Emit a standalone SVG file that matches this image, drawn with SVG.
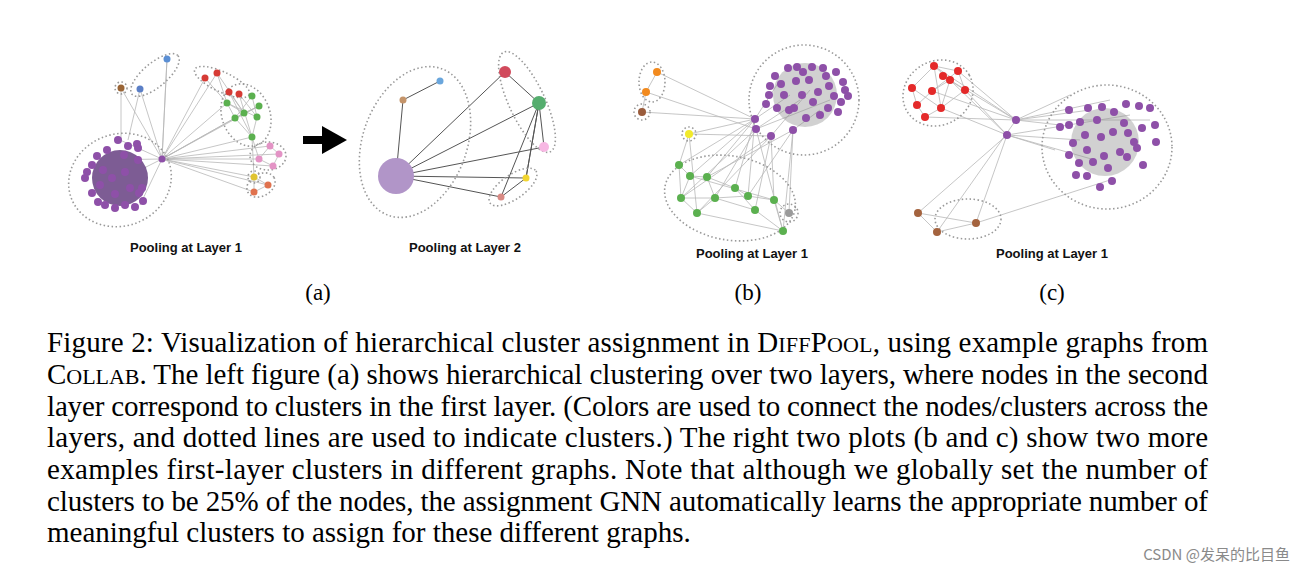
<svg xmlns="http://www.w3.org/2000/svg" width="1300" height="572" viewBox="0 0 1300 572">
<style>
.e{stroke:#b8b8b8;stroke-width:0.8;fill:none}
.e2{stroke:#555;stroke-width:1;fill:none}
.c{fill:none;stroke:#999;stroke-width:1.6;stroke-dasharray:1.5 2.5}
.lb{font-family:"Liberation Sans",Arial,sans-serif;font-weight:bold;font-size:13px;text-anchor:middle;fill:#111}
.sub{font-family:"Liberation Serif",serif;font-size:23px;text-anchor:middle;fill:#000}
.cap{font-family:"Liberation Serif",serif;font-size:29px;fill:#000}
.p{fill:#8e50a8}.g{fill:#5bb04f}.r{fill:#d63b35}
</style>
<rect width="1300" height="572" fill="#fff"/>
<g id="a1">
<g class="e">
<path d="M162,159 L205,78 M162,159 L217,73 M162,159 L227,103 M162,159 L244,113 M162,159 L235,118 M162,159 L252,137 M162,159 L259,106 M162,159 L270,146 M162,159 L259,159 M162,159 L279,154 M162,159 L273,166 M162,159 L254,177 M162,159 L268,185 M162,159 L254,192 M162,159 L140,89 M162,159 L121,88 M162,159 L167,59 M121,88 L121,140 M140,89 L128,140 M167,59 L162,159"/>
<path d="M205,78 L227,103 L217,73 L244,113 L229,92 L252,137 L239,94 L257,117 L227,103 L244,113 L259,106 L235,118 L252,96 L257,117 L252,137 L235,118 L227,103 M252,137 L259,159 L270,146 L279,154 L273,166 L259,159 M252,137 L254,177 L254,192 L268,185 L254,177 M162,159 L100,160 M162,159 L100,190 M162,159 L140,205 M162,159 L120,140"/>
</g>
<ellipse class="c" cx="120" cy="180" rx="52" ry="46" transform="rotate(-20 120 180)"/>
<ellipse class="c" cx="155" cy="75" rx="30" ry="12" transform="rotate(-40 155 75)"/>
<circle class="c" cx="121" cy="88" r="6"/>
<ellipse class="c" cx="222" cy="82" rx="30" ry="10" transform="rotate(25 222 82)"/>
<ellipse class="c" cx="246" cy="115" rx="24" ry="32" transform="rotate(-20 246 115)"/>
<ellipse class="c" cx="268" cy="156" rx="18" ry="14"/>
<ellipse class="c" cx="261" cy="185" rx="15" ry="11" transform="rotate(-30 261 185)"/>
<circle class="c" cx="254" cy="177" r="6"/>
<g class="p">
<circle cx="120" cy="178" r="28" fill="#7d5c94"/>
<circle cx="118" cy="140" r="4"/><circle cx="128" cy="146" r="4"/><circle cx="138" cy="148" r="4"/><circle cx="137" cy="144" r="4"/><circle cx="107" cy="150" r="4"/><circle cx="97" cy="156" r="4"/><circle cx="92" cy="165" r="4"/><circle cx="87" cy="172" r="4"/><circle cx="85" cy="178" r="4"/><circle cx="92" cy="193" r="4"/><circle cx="98" cy="202" r="4"/><circle cx="105" cy="205" r="4"/><circle cx="115" cy="208" r="4"/><circle cx="125" cy="205" r="4"/><circle cx="135" cy="207" r="4"/><circle cx="143" cy="201" r="4"/><circle cx="139" cy="193" r="4"/><circle cx="142" cy="188" r="4"/><circle cx="138" cy="160" r="4"/><circle cx="124" cy="155" r="4"/><circle cx="103" cy="170" r="4"/><circle cx="100" cy="185" r="4"/><circle cx="112" cy="178" r="4"/><circle cx="125" cy="172" r="4"/><circle cx="130" cy="188" r="4"/><circle cx="115" cy="194" r="4"/><circle cx="162" cy="159" r="3.5"/>
</g>
<circle cx="167" cy="59" r="3.5" fill="#5b8fd4"/><circle cx="140" cy="89" r="3.5" fill="#5b7fc6"/><circle cx="121" cy="88" r="3.5" fill="#9a6536"/>
<g class="r"><circle cx="205" cy="78" r="3.5"/><circle cx="217" cy="73" r="3.5"/><circle cx="229" cy="92" r="3.5"/><circle cx="239" cy="94" r="3.5"/></g>
<g class="g"><circle cx="227" cy="103" r="3.5"/><circle cx="252" cy="96" r="3.5"/><circle cx="259" cy="106" r="3.5"/><circle cx="244" cy="113" r="3.5"/><circle cx="235" cy="118" r="3.5"/><circle cx="257" cy="117" r="3.5"/><circle cx="252" cy="137" r="3.5"/></g>
<g fill="#e393c5"><circle cx="270" cy="146" r="3.5"/><circle cx="279" cy="154" r="3.5"/><circle cx="259" cy="159" r="3.5"/><circle cx="273" cy="166" r="3.5"/></g>
<circle cx="254" cy="177" r="3.5" fill="#e0c431"/><circle cx="268" cy="185" r="3.5" fill="#e0724e"/><circle cx="254" cy="192" r="3.5" fill="#e0724e"/>
<text class="lb" x="186" y="252">Pooling at Layer 1</text>
</g>
<g id="arrow"><rect x="303" y="136" width="20" height="8" fill="#000"/><polygon points="322,126 347,140 322,154" fill="#000"/></g>
<g id="a2">
<g class="e2">
<path d="M396,176 L403,100 L440,81 M396,176 L505,72 L539,103 M396,176 L539,103 M396,176 L544,147 M396,176 L526,178 M396,176 L501,197 L526,178 L539,103 L501,197 M539,103 L544,147 M539,103 L526,178"/>
</g>
<ellipse class="c" cx="415" cy="142" rx="52" ry="78" transform="rotate(20 415 142)"/>
<ellipse class="c" cx="527" cy="102" rx="18" ry="55" transform="rotate(-25 527 102)"/>
<ellipse class="c" cx="513" cy="187" rx="28" ry="12" transform="rotate(-35 513 187)"/>
<circle cx="396" cy="176" r="18" fill="#b195c8"/>
<circle cx="403" cy="100" r="3.5" fill="#c4946a"/><circle cx="440" cy="81" r="3.5" fill="#6aa6dc"/>
<circle cx="505" cy="72" r="6" fill="#d14a5c"/><circle cx="539" cy="103" r="7" fill="#55ad6e"/><circle cx="544" cy="147" r="5" fill="#f7b8e3"/>
<circle cx="526" cy="178" r="3.5" fill="#f2d530"/><circle cx="501" cy="197" r="3.5" fill="#d98a84"/>
<text class="lb" x="465" y="252">Pooling at Layer 2</text>
</g>
<g id="b">
<g class="e">
<path d="M657,72 L646,92 L642,112 M657,72 L755,119 M646,92 L756,129 M642,112 L755,119 M689,134 L755,119 M689,134 L771,136 M689,134 L679,165 M689,134 L697,213"/>
<path d="M755,119 L679,165 M755,119 L690,176 M755,119 L707,177 M755,119 L735,188 M755,119 L748,196 M756,129 L715,198 M756,129 L681,198 M771,136 L755,210 M771,136 L774,200 M771,136 L697,213 M793,130 L783,231 M793,130 L789,213 M756,129 L783,231 M771,136 L681,198 M793,130 L748,196 M793,130 L707,177"/>
<path d="M679,165 L690,176 L707,177 L735,188 L748,196 L774,200 L789,213 M679,165 L681,198 L697,213 L715,198 L755,210 L783,231 L697,213 M690,176 L681,198 M707,177 L715,198 L748,196 M735,188 L755,210 M774,200 L783,231 M681,198 L715,198 M690,176 L774,200"/>
<path d="M755,119 L790,95 M756,129 L800,100 M771,136 L810,90 M793,130 L820,110 M755,119 L780,80 M756,129 L830,100"/>
</g>
<circle class="c" cx="804" cy="100" r="55"/>
<ellipse class="c" cx="652" cy="82" rx="13" ry="20"/>
<circle class="c" cx="642" cy="112" r="8"/><circle class="c" cx="689" cy="134" r="7"/>
<ellipse class="c" cx="730" cy="198" rx="66" ry="42" transform="rotate(10 730 198)"/>
<circle class="c" cx="789" cy="213" r="9"/>
<circle cx="805" cy="95" r="32" fill="#8c8c8c" opacity="0.4"/>
<g class="p">
<circle cx="788" cy="68" r="4"/><circle cx="797" cy="67" r="4"/><circle cx="812" cy="67" r="4"/><circle cx="823" cy="68" r="4"/><circle cx="836" cy="72" r="4"/><circle cx="826" cy="76" r="4"/><circle cx="803" cy="72" r="4"/><circle cx="775" cy="76" r="4"/><circle cx="770" cy="86" r="4"/><circle cx="769" cy="95" r="4"/><circle cx="766" cy="104" r="4"/><circle cx="781" cy="84" r="4"/><circle cx="796" cy="81" r="4"/><circle cx="809" cy="80" r="4"/><circle cx="829" cy="86" r="4"/><circle cx="843" cy="82" r="4"/><circle cx="845" cy="90" r="4"/><circle cx="834" cy="96" r="4"/><circle cx="818" cy="92" r="4"/><circle cx="802" cy="95" r="4"/><circle cx="784" cy="95" r="4"/><circle cx="777" cy="108" r="4"/><circle cx="789" cy="110" r="4"/><circle cx="813" cy="102" r="4"/><circle cx="828" cy="108" r="4"/><circle cx="841" cy="102" r="4"/><circle cx="848" cy="96" r="4"/><circle cx="838" cy="112" r="4"/><circle cx="820" cy="115" r="4"/><circle cx="806" cy="118" r="4"/><circle cx="794" cy="108" r="4"/><circle cx="755" cy="119" r="4"/><circle cx="756" cy="129" r="4"/><circle cx="771" cy="136" r="4"/><circle cx="793" cy="130" r="4"/>
</g>
<circle cx="657" cy="72" r="4" fill="#f28a1e"/><circle cx="646" cy="92" r="4" fill="#f28a1e"/><circle cx="642" cy="112" r="4" fill="#9a5c3c"/><circle cx="689" cy="134" r="4" fill="#f2ea2b"/>
<g class="g"><circle cx="679" cy="165" r="4"/><circle cx="690" cy="176" r="4"/><circle cx="707" cy="177" r="4"/><circle cx="735" cy="188" r="4"/><circle cx="748" cy="196" r="4"/><circle cx="715" cy="198" r="4"/><circle cx="681" cy="198" r="4"/><circle cx="755" cy="210" r="4"/><circle cx="774" cy="200" r="4"/><circle cx="697" cy="213" r="4"/><circle cx="783" cy="231" r="4"/></g>
<circle cx="789" cy="213" r="4" fill="#9a9a9a"/>
<text class="lb" x="752" y="258">Pooling at Layer 1</text>
</g>
<g id="c">
<g class="e">
<path d="M934,66 L1016,120 M958,71 L1016,120 M965,90 L1007,135 M932,91 L1016,120 M941,108 L1007,135 M925,117 L1016,120 M950,80 L1007,135 M943,76 L1016,120"/>
<path d="M934,66 L958,71 L965,90 L941,108 L925,117 L917,105 L912,88 L934,66 L950,80 L932,91 L917,105 M943,76 L965,90 M912,88 L941,108 M950,80 L941,108 M958,71 L932,91 M934,66 L941,108"/>
<path d="M1007,135 L918,213 M1007,135 L976,223 M1016,120 L937,232 M976,223 L1110,180 M918,213 L976,223 L937,232 L918,213"/>
<path d="M1016,120 L1070,95 M1016,120 L1090,110 M1007,135 L1080,140 M1007,135 L1095,160 M1016,120 L1110,100 M1007,135 L1130,115 M1016,120 L1150,120 M1007,135 L1055,150 M1016,120 L1060,125"/>
</g>
<ellipse class="c" cx="938" cy="93" rx="36" ry="32" transform="rotate(-30 938 93)"/>
<ellipse class="c" cx="1107" cy="147" rx="65" ry="62"/>
<ellipse class="c" cx="968" cy="219" rx="33" ry="20"/>
<circle cx="1105" cy="142" r="34" fill="#8c8c8c" opacity="0.4"/>
<g class="p">
<circle cx="1016" cy="120" r="4"/><circle cx="1007" cy="135" r="4"/><circle cx="1069" cy="110" r="4"/><circle cx="1060" cy="127" r="4"/><circle cx="1069" cy="125" r="4"/><circle cx="1088" cy="108" r="4"/><circle cx="1102" cy="107" r="4"/><circle cx="1114" cy="112" r="4"/><circle cx="1126" cy="104" r="4"/><circle cx="1139" cy="106" r="4"/><circle cx="1124" cy="123" r="4"/><circle cx="1097" cy="120" r="4"/><circle cx="1080" cy="122" r="4"/><circle cx="1085" cy="135" r="4"/><circle cx="1101" cy="137" r="4"/><circle cx="1113" cy="132" r="4"/><circle cx="1128" cy="133" r="4"/><circle cx="1142" cy="128" r="4"/><circle cx="1155" cy="125" r="4"/><circle cx="1156" cy="142" r="4"/><circle cx="1137" cy="148" r="4"/><circle cx="1120" cy="152" r="4"/><circle cx="1104" cy="156" r="4"/><circle cx="1087" cy="150" r="4"/><circle cx="1073" cy="143" r="4"/><circle cx="1069" cy="155" r="4"/><circle cx="1079" cy="163" r="4"/><circle cx="1093" cy="162" r="4"/><circle cx="1108" cy="168" r="4"/><circle cx="1127" cy="157" r="4"/><circle cx="1143" cy="165" r="4"/><circle cx="1076" cy="175" r="4"/><circle cx="1087" cy="176" r="4"/><circle cx="1112" cy="181" r="4"/><circle cx="1100" cy="187" r="4"/><circle cx="1134" cy="142" r="4"/><circle cx="1150" cy="108" r="4"/></g>
<g fill="#e42a2a"><circle cx="934" cy="66" r="4"/><circle cx="958" cy="71" r="4"/><circle cx="950" cy="80" r="4"/><circle cx="912" cy="88" r="4"/><circle cx="965" cy="90" r="4"/><circle cx="932" cy="91" r="4"/><circle cx="917" cy="105" r="4"/><circle cx="941" cy="108" r="4"/><circle cx="925" cy="117" r="4"/><circle cx="943" cy="76" r="4"/></g>
<g fill="#a4633e"><circle cx="918" cy="213" r="4"/><circle cx="976" cy="223" r="4"/><circle cx="937" cy="232" r="4"/></g>
<text class="lb" x="1052" y="258">Pooling at Layer 1</text>
</g>
<g id="labels">
<text class="sub" x="318" y="300">(a)</text>
<text class="sub" x="748" y="300">(b)</text>
<text class="sub" x="1052" y="300">(c)</text>
</g>
<g id="caption" class="cap">
<text x="47" y="352" textLength="1161" lengthAdjust="spacing">Figure 2: Visualization of hierarchical cluster assignment in D<tspan font-size="22">IFF</tspan>P<tspan font-size="22">OOL</tspan>, using example graphs from</text>
<text x="47" y="384" textLength="1161" lengthAdjust="spacing">C<tspan font-size="22">OLLAB</tspan>. The left figure (a) shows hierarchical clustering over two layers, where nodes in the second</text>
<text x="47" y="416" textLength="1161" lengthAdjust="spacing">layer correspond to clusters in the first layer. (Colors are used to connect the nodes/clusters across the</text>
<text x="47" y="447" textLength="1161" lengthAdjust="spacing">layers, and dotted lines are used to indicate clusters.) The right two plots (b and c) show two more</text>
<text x="47" y="479" textLength="1161" lengthAdjust="spacing">examples first-layer clusters in different graphs. Note that although we globally set the number of</text>
<text x="47" y="511" textLength="1161" lengthAdjust="spacing">clusters to be 25% of the nodes, the assignment GNN automatically learns the appropriate number of</text>
<text x="47" y="542">meaningful clusters to assign for these different graphs.</text>
</g>
<text x="1290" y="560" font-family="'Noto Sans CJK SC','Noto Sans',sans-serif" font-size="15" fill="#8a8a8a" text-anchor="end">CSDN @发呆的比目鱼</text>
</svg>
